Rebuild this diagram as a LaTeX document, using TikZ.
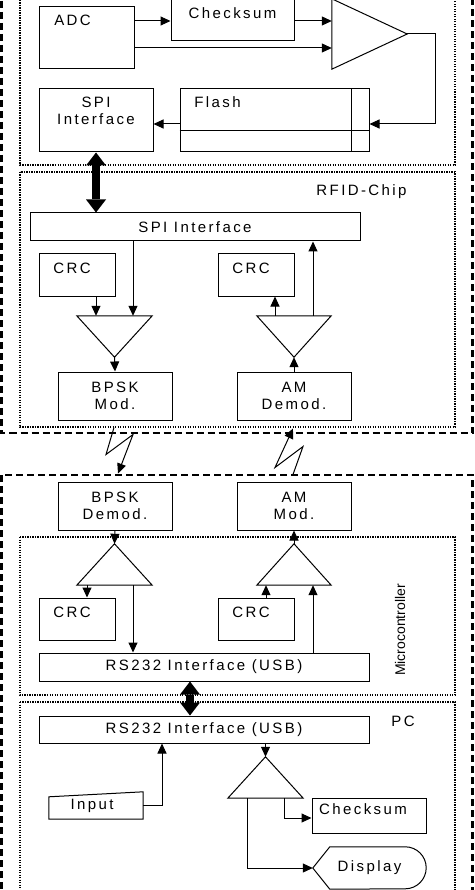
\documentclass[tikz,border=0pt]{standalone}
\usepackage{fontspec}
\setmainfont{Liberation Sans}
\newfontfamily\tracked{Liberation Sans}[LetterSpace=16]
\usepackage{tikz}
\usetikzlibrary{arrows.meta, calc}

\begin{document}
\begin{tikzpicture}[x=1pt, y=-1pt, font=\tracked\fontsize{15}{17}\selectfont]
			\tikzstyle{block} = [rectangle, draw=black, line width=1pt, inner sep=0pt, align=center]
			\tikzstyle{bar} = [block, minimum width=330, minimum height=28]
			\tikzstyle{modem} = [block, minimum width=114, minimum height=48]
			\tikzstyle{crc} = [block, minimum width=76, minimum height=42, label={[xshift=-5, yshift=7]center:CRC}]
			\tikzstyle{mux} = [rectangle, inner sep=0pt, minimum width=75, minimum height=41]
			\tikzstyle{arrow} = [line width=1pt, -{Triangle[length=10pt, width=9pt]}]
			\tikzstyle{bus} = [line width=8pt, {Triangle[length=13pt, width=20pt, line width=0pt]}-{Triangle[length=13pt, width=20pt, line width=0pt]}]
			\tikzstyle{device} = [line width=2.2pt, dash pattern=on 7pt off 4pt]
			\tikzstyle{unit} = [line width=1.2pt, dash pattern=on 1.2pt off 1.3pt]
			
			\useasboundingbox (0,0) rectangle (474,890);
			\clip (0,0) rectangle (474,890);
			
			% Frames
			\draw [device] (1.5,-10) rectangle (472.5,433);
			\draw [device] (1.5,475) rectangle (472.5,900);
			\draw [unit] (20,-10) rectangle (455,165);
			\draw [unit] (20,172) rectangle (455,427);
			\draw [unit] (20,537) rectangle (455,695);
			\draw [unit] (20,702) rectangle (455,900);
			\node (rfid) at (361.5,192) {RFID-Chip};
			\node (mcu) [rotate=90, font=\rmfamily\fontsize{14}{17}\selectfont] at (400,630) {Microcontroller};
			\node (pc) at (403,721) {PC};
			
			% Nodes: sensor
			\node (adc) [block, minimum width=95, minimum height=62, label={[xshift=-14, yshift=18]center:ADC}] at (86.5,38) {};
			\node (sum) [block, minimum width=123, minimum height=56] at (232.5,13) {Checksum};
			\node (comb) [mux, minimum height=70] at (369.5,34) {};
			\node (flash) [block, minimum width=189, minimum height=63, label={[xshift=-57, yshift=18.5]center:Flash}] at (274.5,120.5) {};
			\node (spi) [block, minimum width=114, minimum height=63, label={[align=center, yshift=9.5]center:SPI\\Interface}] at (96,120.5) {};
			
			% Nodes: RFID chip
			\node (chipspi) [bar] at (195,227) {SPI Interface};
			\node (crcA) [crc] at (77,275) {};
			\node (crcB) [crc] at (256,275) {};
			\node (encA) [mux] at (114.5,336.5) {};
			\node (decA) [mux, minimum width=74] at (294,336.5) {};
			\node (bpskmod) [modem] at (115,396) {BPSK\\Mod.};
			\node (amdemod) [modem] at (294,396) {AM\\Demod.};
			
			% Nodes: reader
			\node (bpskdemod) [modem] at (115,506) {BPSK\\Demod.};
			\node (ammod) [modem] at (294,506) {AM\\Mod.};
			\node (decB) [mux] at (114.5,564.5) {};
			\node (encB) [mux, minimum width=74] at (294,564.5) {};
			\node (crcC) [crc] at (77,619) {};
			\node (crcD) [crc] at (256,619) {};
			\node (mcurs) [bar] at (204,667) {RS232 Interface (USB)};
			
			% Nodes: PC
			\node (pcrs) [bar, minimum height=27] at (204,729.5) {RS232 Interface (USB)};
			\node (input) [rectangle, inner sep=0pt, minimum width=94, minimum height=27, label={[xshift=-4]center:Input}] at (96,805.5) {};
			\node (split) [mux] at (265.5,777.5) {};
			\node (pcsum) [block, minimum width=114, minimum height=35, label={[xshift=-6, yshift=6.5]center:Checksum}] at (369,815.5) {};
			\node (display) [rectangle, inner sep=0pt, minimum width=113, minimum height=42] at (369.5,868) {Display};
			
			% Shapes
			\draw [line width=1pt] (comb.north west) -- (comb.east) -- (comb.south west) -- cycle;
			\draw [line width=1pt] ($(flash.north east)+(-18,0)$) -- ($(flash.south east)+(-18,0)$);
			\draw [line width=1pt] (flash.west |- 0,131) -- (flash.east |- 0,131);
			\foreach \m in {encA, decA}
				\draw [line width=1pt] (\m.north west) -- (\m.north east) -- (\m.south) -- cycle;
			\foreach \m in {decB, encB, split}
				\draw [line width=1pt] (\m.south west) -- (\m.south east) -- (\m.north) -- cycle;
			\draw [line width=1pt] (input.south west) -- (input.south east) -- (input.north east) -- ($(input.north west)+(0,5)$) -- cycle;
			\draw [line width=1pt] (display.west) -- ($(display.north west)+(17,0)$) -- ($(display.north east)+(-21,0)$) arc[start angle=-90, end angle=90, radius=21] -- ($(display.south west)+(17,0)$) -- cycle;
			
			% Arrows
			\draw [arrow] (adc.east |- 0,21) -- (sum.west |- 0,21);
			\draw [arrow] (sum.east |- 0,21) -- (comb.west |- 0,21);
			\draw [arrow] (adc.east |- 0,48) -- (comb.west |- 0,48);
			\draw [arrow] (comb.east) -- ++(28,0) |- (flash.east |- 0,124);
			\draw [arrow] (flash.west |- 0,124) -- (spi.east |- 0,124);
			\draw [bus] (spi.south) -- (spi.south |- chipspi.north);
			
			\draw [arrow] (chipspi.south -| 133,0) -- (encA.north -| 133,0);
			\draw [arrow] (crcA.south -| 96,0) -- (encA.north -| 96,0);
			\draw [arrow] (encA.south) -- (bpskmod.north);
			\draw [arrow] (amdemod.north) -- (decA.south);
			\draw [arrow] (decA.north -| 275,0) -- (crcB.south -| 275,0);
			\draw [arrow] (decA.north -| 313,0) -- (chipspi.south -| 313,0);
			
			% Air interface
			\draw [arrow] ($(bpskmod.south)+(-1,7)$) -- ++(-8,27) -- ++(27,-20) -- ($(bpskdemod.north)+(3,-8)$);
			\draw [arrow] ($(ammod.north)+(-1,-7)$) -- ++(10,-28) -- ++(-28,21) -- ($(amdemod.south)+(-1,8)$);
			
			\draw [arrow] (bpskdemod.south) -- (decB.north);
			\draw [arrow] (decB.south -| 87,0) -- (crcC.north -| 87,0);
			\draw [arrow] (decB.south -| 133,0) -- (mcurs.north -| 133,0);
			\draw [arrow] (encB.north) -- (ammod.south);
			\draw [arrow] (crcD.north -| 266,0) -- (encB.south -| 266,0);
			\draw [arrow] (mcurs.north -| 313,0) -- (encB.south -| 313,0);
			\draw [bus] (mcurs.south -| 190,0) -- (pcrs.north -| 190,0);
			
			\draw [arrow] (input.east) -| (pcrs.south -| 162,0);
			\draw [arrow] (pcrs.south -| split.north) -- (split.north);
			\draw [arrow] (split.south -| 284,0) |- ($(pcsum.west)+(0,2.5)$);
			\draw [arrow] (split.south -| 247,0) |- (display.west);
			
		\end{tikzpicture}
\end{document}
